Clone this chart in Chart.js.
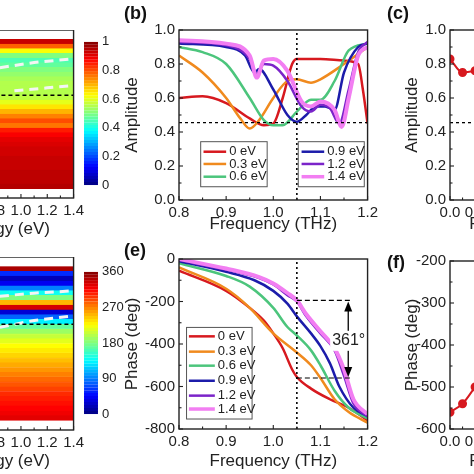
<!DOCTYPE html>
<html>
<head>
<meta charset="utf-8">
<script src="https://cdn.jsdelivr.net/npm/chart.js@4.4.1/dist/chart.umd.min.js"></script>
<style>
  html, body { margin: 0; padding: 0; background: #fff; }
  body { width: 474px; height: 474px; position: relative; overflow: hidden; font-family: "Liberation Sans", Arial, sans-serif; }
  .box { position: absolute; }
  .lbl { position: absolute; font-weight: bold; font-size: 18px; color: #111; }
</style>
</head>
<body>
<div class="box" style="left:-125px;top:30px;width:213px;height:212px"><canvas id="heatAmp"></canvas></div>
<div class="box" style="left:84px;top:30px;width:40px;height:167px"><canvas id="barAmp"></canvas></div>
<div class="box" style="left:-125px;top:257px;width:213px;height:217px"><canvas id="heatPha"></canvas></div>
<div class="box" style="left:84px;top:260px;width:40px;height:166px"><canvas id="barPha"></canvas></div>
<div class="box" style="left:120px;top:0;width:262px;height:237px"><canvas id="ampChart"></canvas></div>
<div class="box" style="left:120px;top:237px;width:262px;height:237px"><canvas id="phaChart"></canvas></div>
<div class="box" style="left:400px;top:0;width:240px;height:237px"><canvas id="ampE"></canvas></div>
<div class="box" style="left:400px;top:237px;width:240px;height:237px"><canvas id="phaE"></canvas></div>
<div class="lbl" style="left:124px;top:3px">(b)</div>
<div class="lbl" style="left:124px;top:240px">(e)</div>
<div class="lbl" style="left:387px;top:3px">(c)</div>
<div class="lbl" style="left:387px;top:252px">(f)</div>
<script>
// ---- data ----
const series = ['0 eV', '0.3 eV', '0.6 eV', '0.9 eV', '1.2 eV', '1.4 eV'];
const seriesColors = ['#d7191f', '#f08a1e', '#4cc57c', '#1c1caa', '#7b24c9', '#f27ef2'];

const ampF0  = [0.8, 0.85, 0.9, 0.95, 0.98, 1.0, 1.02, 1.04, 1.05, 1.1, 1.15, 1.18, 1.19, 1.2];
const ampV0  = [0.6, 0.61, 0.57, 0.48, 0.44, 0.45, 0.6, 0.8, 0.83, 0.83, 0.82, 0.8, 0.65, 0.45];
const ampF3  = [0.8, 0.85, 0.9, 0.93, 0.95, 0.97, 1.0, 1.03, 1.05, 1.08, 1.1, 1.15, 1.2];
const ampV3  = [0.85, 0.75, 0.6, 0.48, 0.42, 0.47, 0.6, 0.7, 0.71, 0.69, 0.71, 0.8, 0.9];
const ampF6  = [0.8, 0.85, 0.9, 0.95, 0.98, 1.0, 1.02, 1.05, 1.08, 1.1, 1.13, 1.16, 1.2];
const ampV6  = [0.9, 0.87, 0.8, 0.6, 0.47, 0.44, 0.44, 0.52, 0.59, 0.59, 0.7, 0.88, 0.92];
const ampF9  = [0.8, 0.9, 0.94, 0.96, 0.97, 1.0, 1.03, 1.05, 1.07, 1.09, 1.11, 1.13, 1.15, 1.18, 1.2];
const ampV9  = [0.92, 0.9, 0.85, 0.75, 0.77, 0.65, 0.5, 0.46, 0.5, 0.55, 0.55, 0.53, 0.75, 0.9, 0.92];
const ampF12 = [0.8, 0.9, 0.95, 0.965, 0.98, 1.0, 1.03, 1.06, 1.08, 1.1, 1.12, 1.14, 1.16, 1.18, 1.2];
const ampV12 = [0.93, 0.91, 0.83, 0.74, 0.8, 0.79, 0.7, 0.55, 0.52, 0.56, 0.54, 0.45, 0.65, 0.87, 0.93];
const ampF14 = [0.8, 0.9, 0.95, 0.965, 0.98, 1.0, 1.03, 1.06, 1.08, 1.1, 1.13, 1.145, 1.16, 1.18, 1.2];
const ampV14 = [0.94, 0.92, 0.85, 0.72, 0.82, 0.83, 0.76, 0.58, 0.55, 0.58, 0.53, 0.43, 0.6, 0.85, 0.9];

const phaF0  = [0.8, 0.9, 0.95, 0.98, 1.0, 1.02, 1.04, 1.05, 1.08, 1.12, 1.16, 1.2];
const phaV0  = [-55, -150, -230, -290, -350, -420, -520, -555, -610, -660, -700, -760];
const phaF3  = [0.8, 0.9, 0.95, 1.0, 1.05, 1.08, 1.1, 1.13, 1.16, 1.2];
const phaV3  = [-40, -140, -230, -350, -440, -500, -560, -660, -720, -770];
const phaF6  = [0.8, 0.9, 0.95, 1.0, 1.03, 1.05, 1.08, 1.1, 1.13, 1.16, 1.2];
const phaV6  = [-20, -80, -130, -230, -320, -360, -430, -500, -620, -700, -750];
const phaF9  = [0.8, 0.9, 0.96, 1.0, 1.03, 1.05, 1.08, 1.1, 1.12, 1.14, 1.17, 1.2];
const phaV9  = [-10, -60, -100, -150, -210, -270, -350, -410, -490, -600, -700, -740];
const phaF12 = [0.8, 0.9, 0.97, 1.0, 1.03, 1.05, 1.07, 1.1, 1.13, 1.15, 1.17, 1.2];
const phaV12 = [-5, -50, -90, -120, -170, -200, -270, -350, -430, -550, -680, -740];
const phaF14 = [0.8, 0.9, 0.97, 1.0, 1.03, 1.05, 1.07, 1.1, 1.13, 1.15, 1.17, 1.2];
const phaV14 = [0, -45, -85, -115, -160, -195, -260, -340, -420, -520, -660, -730];

// panels (c) and (f): value at 1.05 THz vs Fermi energy
const fermiE   = [0, 0.1, 0.2];
const ampAtF   = [0.83, 0.75, 0.76];
const phaAtF   = [-560, -540, -500];

// heat maps: frequency bands (top to bottom) and their values
const heatFreq = [1.1938, 1.1813, 1.1688, 1.1563, 1.1438, 1.1313, 1.1188, 1.1063, 1.0938, 1.0813, 1.0688, 1.0563,
  1.0438, 1.0313, 1.0188, 1.0063, 0.9938, 0.9813, 0.9688, 0.9563, 0.9438, 0.9313, 0.9188, 0.9063,
  0.8938, 0.8813, 0.8688, 0.8563, 0.8438, 0.8313, 0.8188, 0.8063];
const heatAmp = [0.93, 0.78, 0.62, 0.5, 0.45, 0.47, 0.5, 0.52, 0.54, 0.55, 0.55, 0.55, 0.56, 0.6, 0.65, 0.7,
  0.75, 0.8, 0.76, 0.85, 0.88, 0.9, 0.91, 0.92, 0.92, 0.93, 0.93, 0.93, 0.94, 0.94, 0.94, 0.95];
const heatPha = [345, 60, 20, 40, 90, 140, 180, 250, 330, 30, 80, 130, 170, 190, 205, 215, 225, 232,
  240, 248, 255, 262, 270, 278, 285, 292, 300, 305, 310, 315, 320, 325];
const whiteLine1E = [0.84, 1.1, 1.4], whiteLine1F = [1.124, 1.138, 1.148];
const whiteLine2E = [0.95, 1.2, 1.4], whiteLine2F = [1.062, 1.07, 1.076];
const phLine1E = [0.84, 1.1, 1.4], phLine1F = [1.123, 1.131, 1.137];
const phLine2E = [0.84, 1.1, 1.4], phLine2F = [1.042, 1.06, 1.072];

const FONT = '"Liberation Sans", Arial, sans-serif';

function jet(v) {
  const c = t => Math.round(255 * Math.max(0, Math.min(1, t)));
  return `rgb(${c(1.5 - Math.abs(4 * v - 3))},${c(1.5 - Math.abs(4 * v - 2))},${c(1.5 - Math.abs(4 * v - 1))})`;
}
const pts = (xs, ys) => xs.map((x, i) => ({ x, y: ys[i] }));

// draws frame, inner ticks and any overlay items given in options
const overlayPlugin = {
  id: 'overlay',
  afterDatasetsDraw(chart, args, opts) {
    const { ctx, chartArea: a, scales } = chart;
    const x = scales.x, y = scales.y;
    ctx.save();
    (opts.items || []).forEach(it => {
      ctx.strokeStyle = it.color || '#000';
      ctx.fillStyle = it.color || '#000';
      ctx.lineWidth = it.width || 1.3;
      ctx.setLineDash(it.dash || []);
      if (it.type === 'line') {
        ctx.beginPath();
        it.xs.forEach((v, i) => {
          const px = x.getPixelForValue(v), py = y.getPixelForValue(it.ys[i]);
          i ? ctx.lineTo(px, py) : ctx.moveTo(px, py);
        });
        ctx.stroke();
      } else if (it.type === 'arrow') {
        const px = x.getPixelForValue(it.x), y1 = y.getPixelForValue(it.y1), y2 = y.getPixelForValue(it.y2);
        ctx.beginPath(); ctx.moveTo(px, y1 + 8); ctx.lineTo(px, y2 - 8); ctx.stroke();
        [[y1, 1], [y2, -1]].forEach(([py, d]) => {
          ctx.beginPath(); ctx.moveTo(px, py); ctx.lineTo(px - 4, py + 10 * d); ctx.lineTo(px + 4, py + 10 * d); ctx.fill();
        });
      } else if (it.type === 'text') {
        ctx.font = '16px ' + FONT;
        ctx.textAlign = 'center'; ctx.textBaseline = 'middle';
        const px = x.getPixelForValue(it.x), py = y.getPixelForValue(it.y);
        const w = ctx.measureText(it.text).width;
        ctx.fillStyle = '#fff'; ctx.fillRect(px - w / 2 - 2, py - 10, w + 4, 20);
        ctx.fillStyle = '#222'; ctx.fillText(it.text, px, py);
      } else if (it.type === 'legend') {
        const bx1 = x.getPixelForValue(it.box[0]), by1 = y.getPixelForValue(it.box[1]);
        const bx2 = x.getPixelForValue(it.box[2]), by2 = y.getPixelForValue(it.box[3]);
        ctx.fillStyle = '#fff'; ctx.fillRect(bx1, by1, bx2 - bx1, by2 - by1);
        ctx.strokeStyle = '#555'; ctx.lineWidth = 1; ctx.strokeRect(bx1, by1, bx2 - bx1, by2 - by1);
        ctx.font = '13px ' + FONT; ctx.textBaseline = 'middle'; ctx.textAlign = 'left';
        it.idx.forEach((s, k) => {
          const py = y.getPixelForValue(it.rows[k]);
          ctx.strokeStyle = seriesColors[s]; ctx.lineWidth = s === 5 ? 3.5 : 2.5;
          ctx.beginPath(); ctx.moveTo(x.getPixelForValue(it.line[0]), py); ctx.lineTo(x.getPixelForValue(it.line[1]), py); ctx.stroke();
          ctx.fillStyle = '#222'; ctx.fillText(series[s], x.getPixelForValue(it.line[1]) + 3, py);
        });
      }
    });
    ctx.setLineDash([]);
    if (opts.frame) {
      ctx.strokeStyle = '#222'; ctx.lineWidth = 1.4;
      ctx.strokeRect(a.left, a.top, a.right - a.left, a.bottom - a.top);
      ctx.lineWidth = 1.1;
      x.ticks.forEach((t, i) => {
        const px = x.getPixelForValue(t.value);
        ctx.beginPath(); ctx.moveTo(px, a.bottom); ctx.lineTo(px, a.bottom - 4); ctx.stroke();
        if (i < x.ticks.length - 1) {
          const pm = (px + x.getPixelForValue(x.ticks[i + 1].value)) / 2;
          ctx.beginPath(); ctx.moveTo(pm, a.bottom); ctx.lineTo(pm, a.bottom - 2.5); ctx.stroke();
        }
      });
      y.ticks.forEach((t, i) => {
        const py = y.getPixelForValue(t.value);
        ctx.beginPath(); ctx.moveTo(a.left, py); ctx.lineTo(a.left + 4, py); ctx.stroke();
        if (i < y.ticks.length - 1) {
          const pm = (py + y.getPixelForValue(y.ticks[i + 1].value)) / 2;
          ctx.beginPath(); ctx.moveTo(a.left, pm); ctx.lineTo(a.left + 2.5, pm); ctx.stroke();
        }
      });
    }
    ctx.restore();
  }
};
Chart.register(overlayPlugin);

const tickFont = { family: FONT, size: 15 };
const titleFont = { family: FONT, size: 17 };

function axis(min, max, step, title, fit, digits) {
  return {
    type: 'linear', min, max,
    grid: { display: false, drawTicks: false },
    border: { display: false },
    ticks: { stepSize: step, color: '#222', font: tickFont, padding: 4,
      maxRotation: 0, minRotation: 0, autoSkip: false,
      callback: v => v.toFixed(digits) },
    title: { display: !!title, text: title, color: '#222', font: titleFont, padding: 2 },
    afterFit: fit
  };
}

function lineChart(id, sets, yMin, yMax, yStep, yTitle, top, bottomH, leftW, items, xMin, xMax, xStep, xTitle) {
  new Chart(document.getElementById(id), {
    type: 'line',
    data: {
      datasets: sets.map(s => ({
        data: s.data, borderColor: s.color, backgroundColor: s.color,
        borderWidth: s.w || 2.5, pointRadius: s.r || 0, pointBackgroundColor: s.color,
        cubicInterpolationMode: 'monotone', tension: 0.4
      }))
    },
    options: {
      responsive: true, maintainAspectRatio: false, animation: false,
      layout: { padding: { top, right: 7, left: 0, bottom: 0 } },
      plugins: { legend: { display: false }, tooltip: { enabled: false }, overlay: { frame: true, items } },
      scales: {
        x: axis(xMin, xMax, xStep, xTitle, s => { s.height = bottomH; }, 1),
        y: axis(yMin, yMax, yStep, yTitle, s => { s.width = leftW; }, yStep >= 1 ? 0 : 1)
      }
    }
  });
}

// (b) amplitude spectra
const ampSets = [[ampF0, ampV0], [ampF3, ampV3], [ampF6, ampV6], [ampF9, ampV9], [ampF12, ampV12], [ampF14, ampV14]]
  .map((p, i) => ({ data: pts(p[0], p[1]), color: seriesColors[i], w: i === 5 ? 4 : 2.5 })).reverse();
lineChart('ampChart', ampSets, 0, 1, 0.2, 'Amplitude', 30, 37, 59, [
  { type: 'line', xs: [1.05, 1.05], ys: [0, 1], dash: [2, 3], width: 1.6 },
  { type: 'line', xs: [0.8, 1.2], ys: [0.455, 0.455], dash: [3, 3], width: 1.3 },
  { type: 'legend', box: [0.846, 0.343, 0.987, 0.078], line: [0.852, 0.9], rows: [0.284, 0.212, 0.137], idx: [0, 1, 2] },
  { type: 'legend', box: [1.053, 0.343, 1.193, 0.078], line: [1.06, 1.108], rows: [0.284, 0.212, 0.137], idx: [3, 4, 5] }
], 0.8, 1.2, 0.1, 'Frequency (THz)');

// (e) phase spectra
const phaSets = [[phaF0, phaV0], [phaF3, phaV3], [phaF6, phaV6], [phaF9, phaV9], [phaF12, phaV12], [phaF14, phaV14]]
  .map((p, i) => ({ data: pts(p[0], p[1]), color: seriesColors[i], w: i === 5 ? 4 : 2.5 })).reverse();
lineChart('phaChart', phaSets, -800, 0, 200, 'Phase (deg)', 22, 45, 59, [
  { type: 'line', xs: [1.05, 1.05], ys: [-800, 0], dash: [2, 3], width: 1.6 },
  { type: 'line', xs: [1.05, 1.166], ys: [-195, -195], dash: [5, 3], width: 1.2 },
  { type: 'line', xs: [1.05, 1.166], ys: [-560, -560], dash: [5, 3], width: 1.2 },
  { type: 'arrow', x: 1.159, y1: -200, y2: -555, width: 1.3 },
  { type: 'text', x: 1.16, y: -385, text: '361°' },
  { type: 'legend', box: [0.816, -322, 0.955, -753], line: [0.821, 0.876], rows: [-364, -436, -502, -573, -643, -706], idx: [0, 1, 2, 3, 4, 5] }
], 0.8, 1.2, 0.1, 'Frequency (THz)');

// (c) and (f)
lineChart('ampE', [{ data: pts(fermiE, ampAtF), color: '#d7191f', w: 2, r: 3.5 }], 0, 1, 0.2, 'Amplitude', 30, 37, 50, [
  { type: 'line', xs: [0, 1.4], ys: [0.455, 0.455], dash: [3, 3], width: 1.3 }
], 0, 1.4, 0.2, 'Fermi energy (eV)');
lineChart('phaE', [{ data: pts(fermiE, phaAtF), color: '#d7191f', w: 2, r: 3.5 }], -600, -200, 100, 'Phase (deg)', 24, 45, 50, [],
  0, 1.4, 0.2, 'Fermi energy (eV)');

// (a) and (d) heat maps as stacked horizontal bands
function heatMap(id, vals, vmax, items) {
  new Chart(document.getElementById(id), {
    type: 'bar',
    data: {
      datasets: [{
        data: heatFreq.map((f, i) => ({ y: f, x: [0, 1.4] })),
        backgroundColor: vals.map(v => jet(v / vmax)),
        borderColor: vals.map(v => jet(v / vmax)),
        borderWidth: 0.6, barPercentage: 1, categoryPercentage: 1, borderSkipped: false
      }]
    },
    options: {
      indexAxis: 'y', responsive: true, maintainAspectRatio: false, animation: false,
      layout: { padding: { left: 12, right: 12 } },
      plugins: { legend: { display: false }, tooltip: { enabled: false }, overlay: { frame: true, items } },
      scales: {
        x: axis(0, 1.4, 0.2, 'Fermi energy (eV)', s => { s.height = 44; }, 1),
        y: { type: 'linear', min: 0.8, max: 1.2, display: false, afterFit: s => { s.width = 0; } }
      }
    }
  });
}
heatMap('heatAmp', heatAmp, 1, [
  { type: 'line', xs: whiteLine1E, ys: whiteLine1F, color: '#f4f4f4', dash: [9, 6], width: 3 },
  { type: 'line', xs: whiteLine2E, ys: whiteLine2F, color: '#f4f4f4', dash: [9, 6], width: 3 },
  { type: 'line', xs: [0, 1.4], ys: [1.05, 1.05], dash: [4, 3], width: 1.5 }
]);
heatMap('heatPha', heatPha, 360, [
  { type: 'line', xs: phLine1E, ys: phLine1F, color: '#f4f4f4', dash: [9, 6], width: 3 },
  { type: 'line', xs: phLine2E, ys: phLine2F, color: '#f4f4f4', dash: [9, 6], width: 3 },
  { type: 'line', xs: [0, 1.4], ys: [1.05, 1.05], dash: [4, 3], width: 1.5 }
]);

// colour bars
const cbLevels = Array.from({ length: 48 }, (_, i) => (i + 0.5) / 48);
function colorBar(id, vmax, step) {
  new Chart(document.getElementById(id), {
    type: 'bar',
    data: {
      labels: [''],
      datasets: cbLevels.map(l => ({ data: [vmax / cbLevels.length], backgroundColor: jet(l),
        borderColor: jet(l), borderWidth: 0.5, barPercentage: 1, categoryPercentage: 1 }))
    },
    options: {
      responsive: true, maintainAspectRatio: false, animation: false,
      layout: { padding: { top: 8, bottom: 8 } },
      plugins: { legend: { display: false }, tooltip: { enabled: false } },
      scales: {
        x: { stacked: true, display: false },
        y: { stacked: true, position: 'right', min: 0, max: vmax,
          grid: { display: false, drawTicks: false }, border: { display: false },
          ticks: { stepSize: step, color: '#222', font: { family: FONT, size: 13 }, padding: 4,
            callback: v => (vmax === 1 && v > 0 && v < 1) ? v.toFixed(1) : String(v) },
          afterFit: s => { s.width = 26; } }
      }
    }
  });
}
colorBar('barAmp', 1, 0.2);
colorBar('barPha', 360, 90);
</script>
</body>
</html>
